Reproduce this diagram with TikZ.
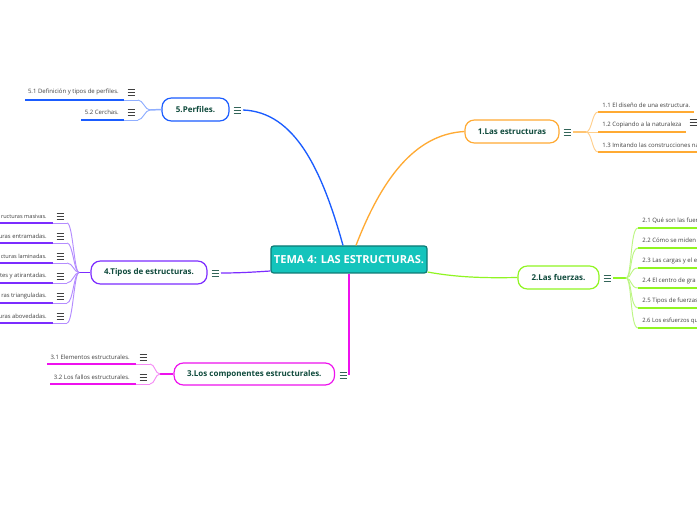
\documentclass[tikz,border=0pt]{standalone}
\usepackage{fontspec}
\setmainfont{Open Sans}
\definecolor{cblue}{HTML}{1A5CFF}\definecolor{lblue}{HTML}{8FAEFF}
\definecolor{cpurp}{HTML}{7C2CFF}\definecolor{lpurp}{HTML}{B48CFF}
\definecolor{cmag}{HTML}{EE11EE}\definecolor{lmag}{HTML}{F58AF5}
\definecolor{corg}{HTML}{FFAA33}\definecolor{lorg}{HTML}{FFCF8C}
\definecolor{cgrn}{HTML}{90F522}\definecolor{lgrn}{HTML}{BDF684}
\definecolor{dgreen}{HTML}{0F4A3C}
\definecolor{tealc}{HTML}{14C4BC}
\definecolor{tealb}{HTML}{0D7A75}
\tikzset{
 x=0.75pt,y=-0.75pt,
 topic/.style={draw=#1,line width=0.9pt,rounded corners=7pt,fill=white,inner sep=0pt,text=dgreen,font=\fontsize{6}{8}\selectfont\bfseries,align=center},
 centre/.style={draw=tealb,line width=0.9pt,rounded corners=2pt,fill=tealc,inner sep=0pt,text=white,font=\fontsize{8.3}{10}\selectfont\bfseries},
 leaf/.style={inner sep=0pt,text=black!75,font=\fontsize{4.5}{6}\selectfont},
 uline/.style={draw=#1,line width=1.3pt},
 twig/.style={draw=#1,line width=0.7pt},
 stem/.style={draw=#1,line width=1.1pt},
}
\newcommand{\burger}[3]{\draw[#3,line width=0.55pt] (#1-3.5,#2-3)--(#1+3.5,#2-3) (#1-3.5,#2)--(#1+3.5,#2) (#1-3.5,#2+3)--(#1+3.5,#2+3);}
% name, text right, text y, line left, line right, twig end, colour, text, line y
\newcommand{\lleaf}[9]{%
 \node[leaf,anchor=east] (#1) at (#2,#3) {#8};
 \coordinate (#1a) at (#4,#9); \coordinate (#1b) at (#5,#9); \coordinate (#1c) at (#6,#9);
 \draw[uline=c#7] (#1a)--(#1b);
 \draw[twig=l#7] (#1b)--(#1c);
 \burger{#6-7}{#3}{black!75}
}
% name, text left, text y, line right, colour, text, line y
\newcommand{\rleaf}[7]{%
 \node[leaf,anchor=west] (#1) at (#2,#3) {#6};
 \coordinate (#1a) at ({#2-4},#7); \coordinate (#1b) at (#4,#7);
 \draw[uline=c#5] (#1a)--(#1b);
}
\begin{document}
\begin{tikzpicture}
\useasboundingbox (0,0) rectangle (697,520);
\clip (0,0) rectangle (697,520);
\fill[white] (0,0) rectangle (697,520);
\node[centre,minimum width=156*0.75pt,minimum height=27*0.75pt] (C) at (349,259.5) {TEMA 4: LAS ESTRUCTURAS.};
\node[topic=cblue,minimum width=67*0.75pt,minimum height=23*0.75pt] (T5) at (195.5,109.5) {5.Perfiles.};
\node[topic=cpurp,minimum width=116*0.75pt,minimum height=23*0.75pt] (T4) at (149,272.5) {4.Tipos de estructuras.};
\node[topic=cmag,minimum width=160.5*0.75pt,minimum height=22*0.75pt] (T3) at (254.3,374) {3.Los componentes estructurales.};
\node[topic=corg,minimum width=94*0.75pt,minimum height=23*0.75pt] (T1) at (512,131.5) {1.Las estructuras};
\node[topic=cgrn,minimum width=81*0.75pt,minimum height=23*0.75pt] (T2) at (558.5,277.5) {2.Las fuerzas.};
\burger{237}{110}{dgreen!85}
\burger{215}{273}{dgreen!85}
\burger{343}{375}{dgreen!85}
\burger{567}{132}{dgreen!85}
\burger{607}{278}{dgreen!85}
\coordinate (s5) at (243,110); \coordinate (s4) at (221,273); \coordinate (s3) at (349,375);
\coordinate (s1) at (573,132); \coordinate (s2) at (613,278);
\draw[stem=cblue,line width=1pt] (s5) .. controls (295,112) and (322,170) .. (C.north -| 343,0);
\draw[stem=cpurp,line width=0.9pt] (s4) .. controls (240,273) and (255,272) .. (C.west |- 0,271);
\draw[stem=cmag,line width=1pt] (s3) -- (C.south);
\draw[stem=corg,line width=1pt] (T1.west) .. controls (420,134) and (385,170) .. (C.north -| 356,0);
\draw[stem=cgrn,line width=0.9pt] (C.east |- 0,272) .. controls (460,278) and (490,278) .. (T2.west);
\coordinate (j5) at (150,110);
\lleaf{a1}{119}{92}{25}{124}{138}{blue}{5.1 Definición y tipos de perfiles.}{100}
\lleaf{a2}{119}{112}{81}{124}{138}{blue}{5.2 Cerchas.}{120}
\draw[stem=lblue] (j5)--(T5.west);
\draw[twig=lblue] (a1c) .. controls (143,100) and (145,110) .. (j5);
\draw[twig=lblue] (a2c) .. controls (143,120) and (145,110) .. (j5);
\coordinate (j4) at (79,272.5);
\lleaf{b1}{47}{216}{0}{53}{67}{purp}{\fontsize{4.2}{6}\selectfont ructuras masivas.}{223}
\lleaf{b2}{47}{236}{0}{53}{67}{purp}{\fontsize{4.4}{6}\selectfont uras entramadas.}{243}
\lleaf{b3}{47}{256}{0}{53}{67}{purp}{\fontsize{4.2}{6}\selectfont cturas laminadas.}{263}
\lleaf{b4}{47}{276}{0}{53}{67}{purp}{\fontsize{4.4}{6}\selectfont tes y atirantadas.}{283}
\lleaf{b5}{47}{296}{0}{53}{67}{purp}{\fontsize{4.4}{6}\selectfont ras trianguladas.}{303}
\lleaf{b6}{47}{316}{0}{53}{67}{purp}{\fontsize{4.4}{6}\selectfont uras abovedadas.}{323}
\draw[stem=cpurp] (j4)--(T4.west);
\foreach \n in {b1,b2,b3,b4,b5,b6}{\draw[twig=lpurp] (\n c) .. controls +(6,0) and (74,272.5) .. (j4);}
\coordinate (j3) at (160,374);
\lleaf{c1}{130}{357}{47}{136}{150}{mag}{3.1 Elementos estructurales.}{364}
\lleaf{c2}{130}{377}{50}{136}{150}{mag}{3.2 Los fallos estructurales.}{384}
\draw[stem=cmag] (j3)--(T3.west);
\draw[twig=lmag] (c1c) .. controls +(5,0) and (155,374) .. (j3);
\draw[twig=lmag] (c2c) .. controls +(5,0) and (155,374) .. (j3);
\coordinate (j1) at (586,132);
\rleaf{d1}{602}{105}{694}{org}{1.1 El diseño de una estructura.}{112}
\rleaf{d2}{602}{125}{686}{org}{1.2 Copiando a la naturaleza}{132}
\rleaf{d3}{602}{145}{697}{org}{1.3 Imitando las construcciones na}{152}
\burger{693}{122}{black!75}
\draw[stem=lorg!70!corg] (s1)--(j1);
\draw[twig=lorg] (j1)--(d2a);
\draw[twig=lorg] (j1) .. controls (592,132) and (592,112) .. (d1a);
\draw[twig=lorg] (j1) .. controls (592,132) and (592,152) .. (d3a);
\coordinate (j2) at (626,278);
\rleaf{e1}{642}{220.5}{697}{grn}{2.1 Qué son las fuer}{228}
\rleaf{e2}{642}{240.5}{697}{grn}{2.2 Cómo se miden}{248}
\rleaf{e3}{642}{260.5}{697}{grn}{2.3 Las cargas y el e}{268}
\rleaf{e4}{642}{280.5}{697}{grn}{2.4 El centro de gra}{288}
\rleaf{e5}{642}{300.5}{697}{grn}{2.5 Tipos de fuerzas}{308}
\rleaf{e6}{642}{320.5}{697}{grn}{\fontsize{4.4}{6}\selectfont 2.6 Los esfuerzos qu}{328}
\draw[stem=cgrn] (s2)--(j2);
\foreach \n in {e1,e2,e3,e4,e5,e6}{\draw[twig=lgrn] (j2) .. controls (632,278) and (630,0 |- \n a) .. (\n a);}
\end{tikzpicture}
\end{document}
